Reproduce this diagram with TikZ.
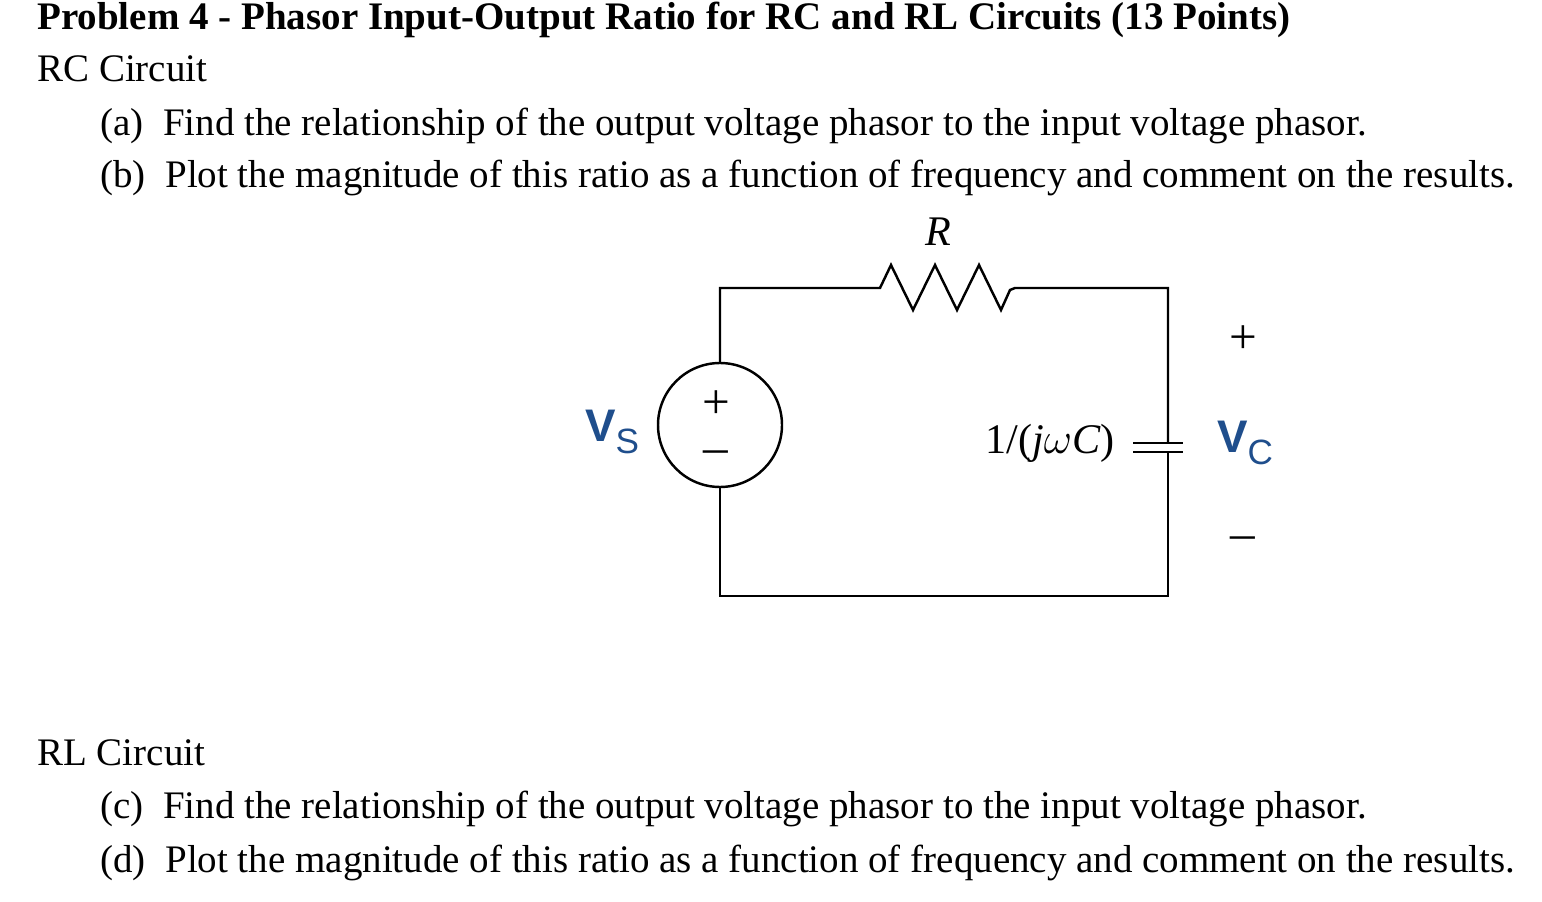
\documentclass[tikz,border=0pt]{standalone}
\usepackage{fontspec}
\setmainfont{Liberation Serif}
\newfontfamily\vsans{Liberation Sans}
\definecolor{vblue}{HTML}{1F4E8C}
\begin{document}
\begin{tikzpicture}[x=0.02cm,y=-0.02cm,
  txt/.style={anchor=base west,inner sep=0,font=\fontsize{22.2pt}{24pt}\selectfont},
  wire/.style={line width=1.4pt},
  lbl/.style={inner sep=0,font=\fontsize{22pt}{24pt}\selectfont}]
\useasboundingbox (0,0) rectangle (1542,902);
\node[txt,font=\bfseries\fontsize{22.2pt}{24pt}\selectfont] (t) at (37,30) {Problem 4 - Phasor Input-Output Ratio for RC and RL Circuits (13 Points)};
\node[txt] (rc) at (37,82) {RC Circuit};
\node[txt] (a) at (100,136) {(a)\ \ Find the relationship of the output voltage phasor to the input voltage phasor.};
\node[txt] (b) at (100,188) {(b)\ \ Plot the magnitude of this ratio as a function of frequency and comment on the results.};
\node[txt] (rl) at (37,765) {RL Circuit};
\node[txt] (c) at (100,818) {(c)\ \ Find the relationship of the output voltage phasor to the input voltage phasor.};
\node[txt] (d) at (100,872) {(d)\ \ Plot the magnitude of this ratio as a function of frequency and comment on the results.};
% circuit
\node[draw,circle,wire,minimum size=124*0.02cm,inner sep=0] (src) at (720,425) {};
\coordinate (tl) at (720,288);
\coordinate (r1) at (880,288);
\coordinate (r2) at (1015,288);
\coordinate (tr) at (1168,288);
\coordinate (c1) at (1168,443);
\coordinate (c2) at (1168,452);
\coordinate (br) at (1168,596);
\coordinate (bl) at (720,596);
\draw[wire,line join=miter] (src.north) -- (tl) -- (r1) -- (891,265) -- (913,310) -- (935,265) -- (957,310) -- (979,265) -- (1001,310) -- (1010,290) -- (r2) -- (tr) -- (c1);
\draw[wire] (1133,443) -- (1183,443);
\draw[wire] (1133,452) -- (1183,452);
\draw[wire] (c2) -- (br) -- (bl) -- (src.south);
\node[lbl,font=\itshape\fontsize{24pt}{26pt}\selectfont] (R) at (938,232) {R};
\node[lbl,font=\fontsize{28pt}{30pt}\selectfont] (sp) at (716,405) {+};
\node[lbl,font=\fontsize{28pt}{30pt}\selectfont] (sm) at (716,457) {--};
\node[lbl,font=\fontsize{28pt}{30pt}\selectfont] (cp) at (1243,340) {+};
\node[lbl,font=\fontsize{28pt}{30pt}\selectfont] (cm) at (1243,543) {--};
\node[lbl,font=\fontsize{24pt}{26pt}\selectfont] (zc) at (1050,443) {1/(\textit{j}$\omega$\textit{C})};
\node[lbl,text=vblue] (vs) at (612,432) {\vsans\fontsize{26pt}{28pt}\selectfont\textbf{V}\raisebox{-7pt}{\fontsize{20pt}{22pt}\selectfont S}};
\node[lbl,text=vblue] (vc) at (1245,443) {\vsans\fontsize{26pt}{28pt}\selectfont\textbf{V}\raisebox{-7pt}{\fontsize{20pt}{22pt}\selectfont C}};
\end{tikzpicture}
\end{document}
